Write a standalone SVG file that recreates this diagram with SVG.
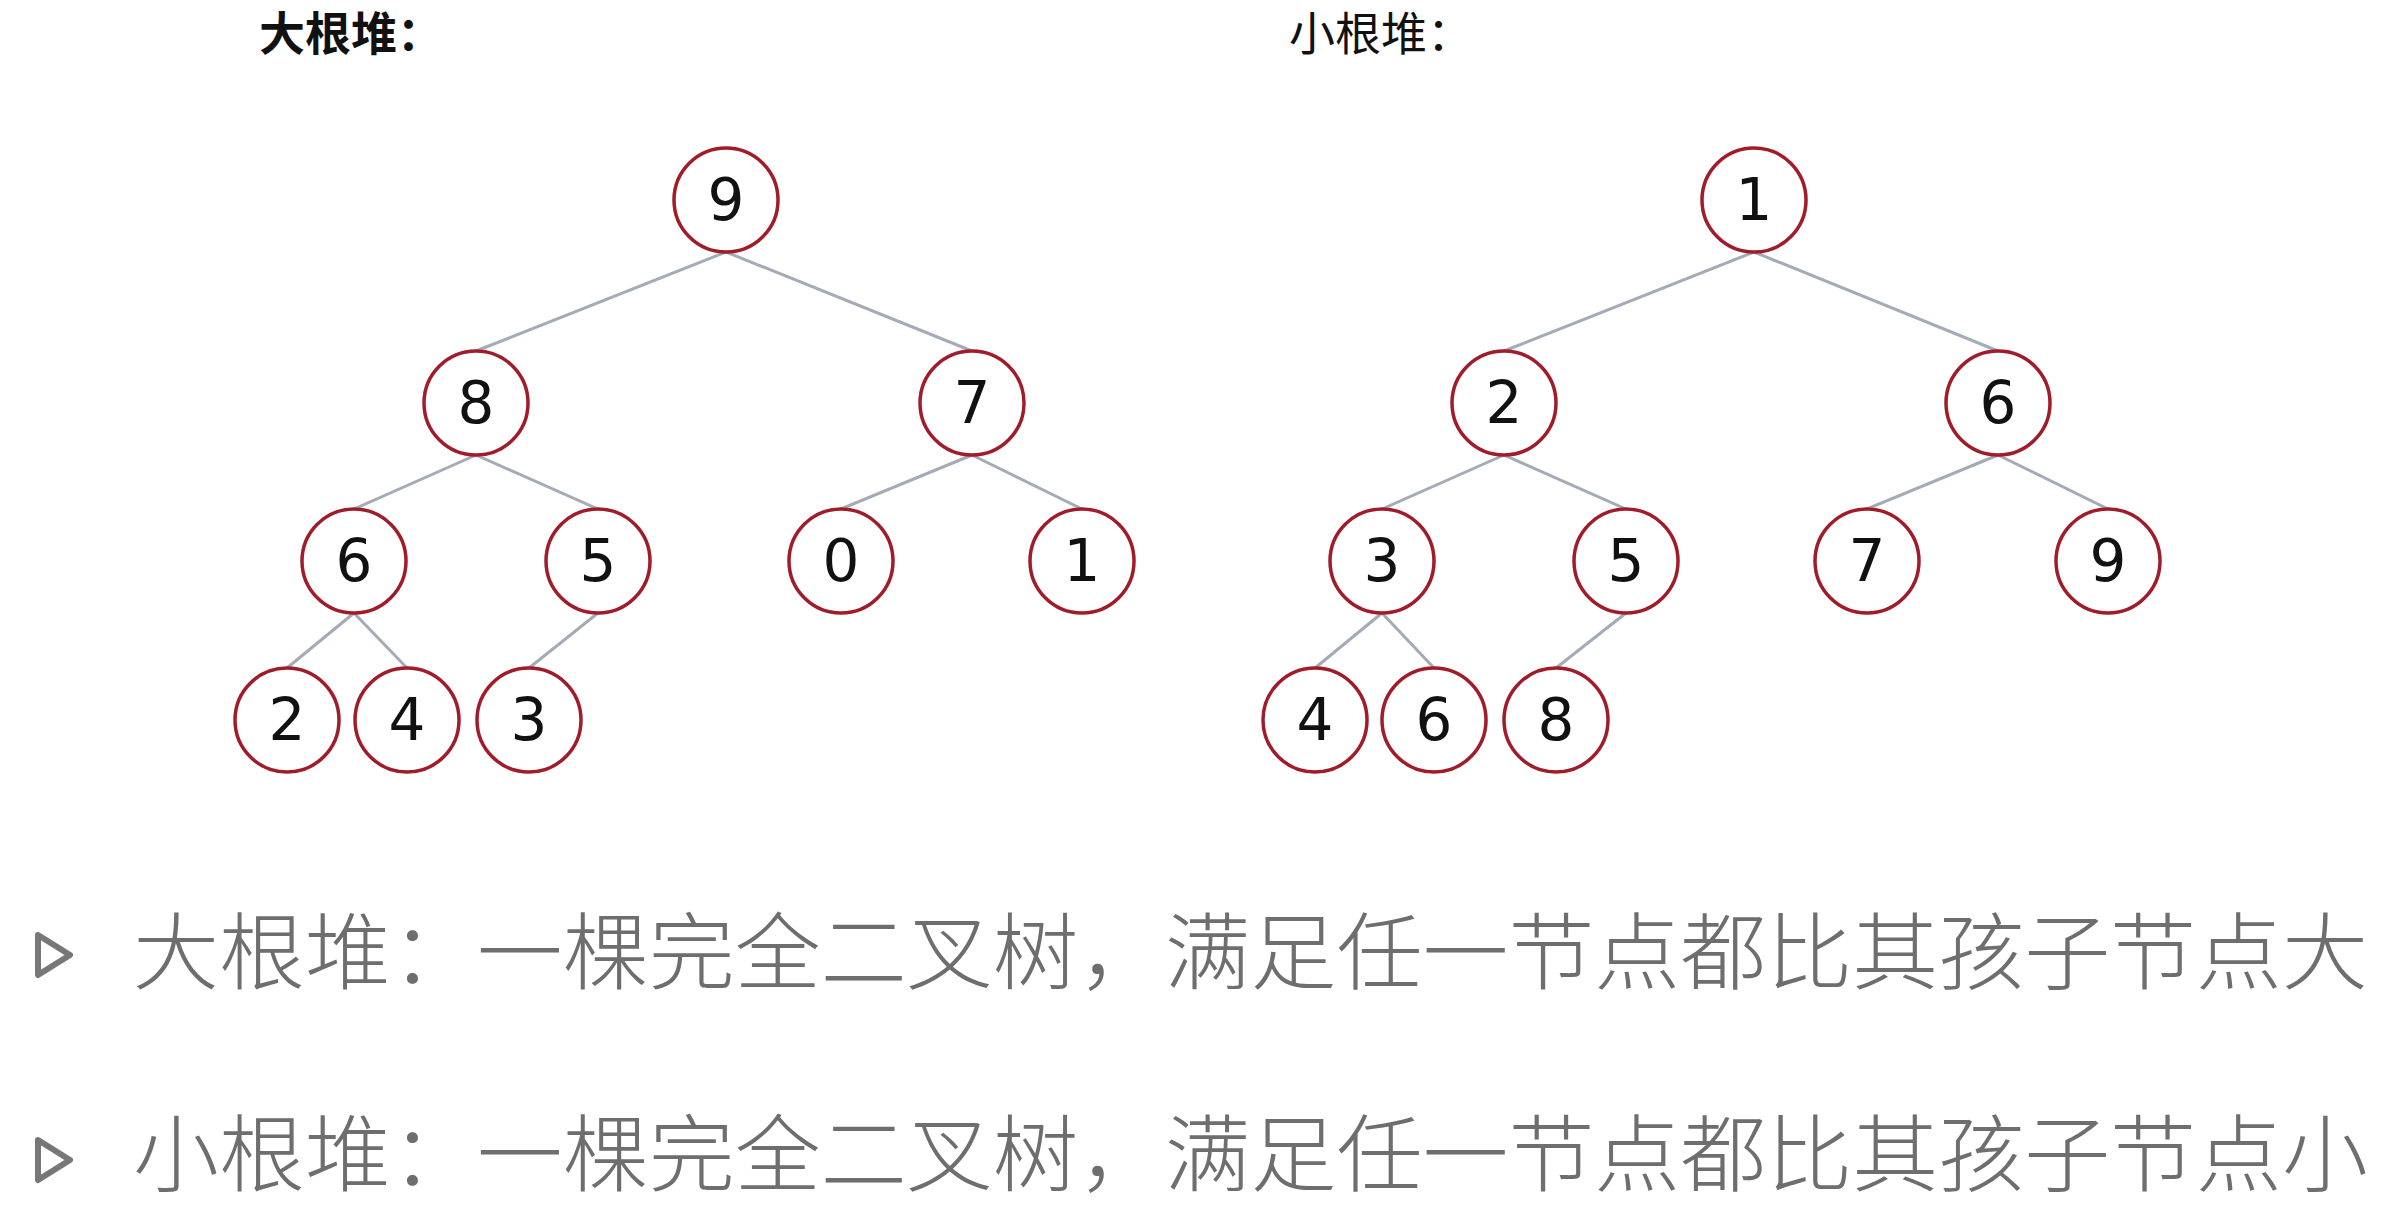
<svg xmlns="http://www.w3.org/2000/svg" width="2392" height="1208" viewBox="0 0 2392 1208">
<style>
.n circle{fill:#fff;stroke:#a01c28;stroke-width:3.5}
.n text{font-family:"DejaVu Sans","Liberation Sans",sans-serif;font-size:58px;text-anchor:middle;dominant-baseline:central;fill:#111}
.e line{stroke:#a3abb6;stroke-width:3}
.t{font-family:"Liberation Serif","Noto Sans CJK SC",serif;font-size:46px;fill:#111}
.d{font-family:"Noto Sans CJK SC",sans-serif;font-size:84px;fill:#6e6e6e;font-weight:300}
</style>
<rect width="2392" height="1208" fill="#fff"/>
<text class="t" x="259" y="50" font-weight="bold">大根堆：</text>
<text class="t" x="1289" y="50">小根堆：</text>
<g class="e">
<line x1="726" y1="252" x2="476" y2="351"/><line x1="726" y1="252" x2="972" y2="351"/>
<line x1="476" y1="455" x2="354" y2="509"/><line x1="476" y1="455" x2="598" y2="509"/>
<line x1="972" y1="455" x2="841" y2="509"/><line x1="972" y1="455" x2="1082" y2="509"/>
<line x1="354" y1="613" x2="287" y2="668"/><line x1="354" y1="613" x2="407" y2="668"/>
<line x1="598" y1="613" x2="529" y2="668"/>
<line x1="1754" y1="252" x2="1504" y2="351"/><line x1="1754" y1="252" x2="1998" y2="351"/>
<line x1="1504" y1="455" x2="1382" y2="509"/><line x1="1504" y1="455" x2="1626" y2="509"/>
<line x1="1998" y1="455" x2="1867" y2="509"/><line x1="1998" y1="455" x2="2108" y2="509"/>
<line x1="1382" y1="613" x2="1315" y2="668"/><line x1="1382" y1="613" x2="1434" y2="668"/>
<line x1="1626" y1="613" x2="1556" y2="668"/>
</g>
<g id="b9" class="n"><circle cx="726" cy="200" r="52"/><text x="726" y="200">9</text></g>
<g id="b8" class="n"><circle cx="476" cy="403" r="52"/><text x="476" y="403">8</text></g>
<g id="b7" class="n"><circle cx="972" cy="403" r="52"/><text x="972" y="403">7</text></g>
<g id="b6" class="n"><circle cx="354" cy="561" r="52"/><text x="354" y="561">6</text></g>
<g id="b5" class="n"><circle cx="598" cy="561" r="52"/><text x="598" y="561">5</text></g>
<g id="b0" class="n"><circle cx="841" cy="561" r="52"/><text x="841" y="561">0</text></g>
<g id="b1" class="n"><circle cx="1082" cy="561" r="52"/><text x="1082" y="561">1</text></g>
<g id="b2" class="n"><circle cx="287" cy="720" r="52"/><text x="287" y="720">2</text></g>
<g id="b4" class="n"><circle cx="407" cy="720" r="52"/><text x="407" y="720">4</text></g>
<g id="b3" class="n"><circle cx="529" cy="720" r="52"/><text x="529" y="720">3</text></g>
<g id="s1" class="n"><circle cx="1754" cy="200" r="52"/><text x="1754" y="200">1</text></g>
<g id="s2" class="n"><circle cx="1504" cy="403" r="52"/><text x="1504" y="403">2</text></g>
<g id="s6" class="n"><circle cx="1998" cy="403" r="52"/><text x="1998" y="403">6</text></g>
<g id="s3" class="n"><circle cx="1382" cy="561" r="52"/><text x="1382" y="561">3</text></g>
<g id="s5" class="n"><circle cx="1626" cy="561" r="52"/><text x="1626" y="561">5</text></g>
<g id="s7" class="n"><circle cx="1867" cy="561" r="52"/><text x="1867" y="561">7</text></g>
<g id="s9" class="n"><circle cx="2108" cy="561" r="52"/><text x="2108" y="561">9</text></g>
<g id="s4" class="n"><circle cx="1315" cy="720" r="52"/><text x="1315" y="720">4</text></g>
<g id="s6b" class="n"><circle cx="1434" cy="720" r="52"/><text x="1434" y="720">6</text></g>
<g id="s8" class="n"><circle cx="1556" cy="720" r="52"/><text x="1556" y="720">8</text></g>
<polygon points="38,935 70,955 38,975" fill="none" stroke="#777" stroke-width="6" stroke-linejoin="round"/>
<polygon points="38,1140 70,1160 38,1180" fill="none" stroke="#777" stroke-width="6" stroke-linejoin="round"/>
<text class="d" x="133" y="983" textLength="2235" lengthAdjust="spacingAndGlyphs">大根堆：一棵完全二叉树，满足任一节点都比其孩子节点大</text>
<text class="d" x="133" y="1185" textLength="2235" lengthAdjust="spacingAndGlyphs">小根堆：一棵完全二叉树，满足任一节点都比其孩子节点小</text>
</svg>
